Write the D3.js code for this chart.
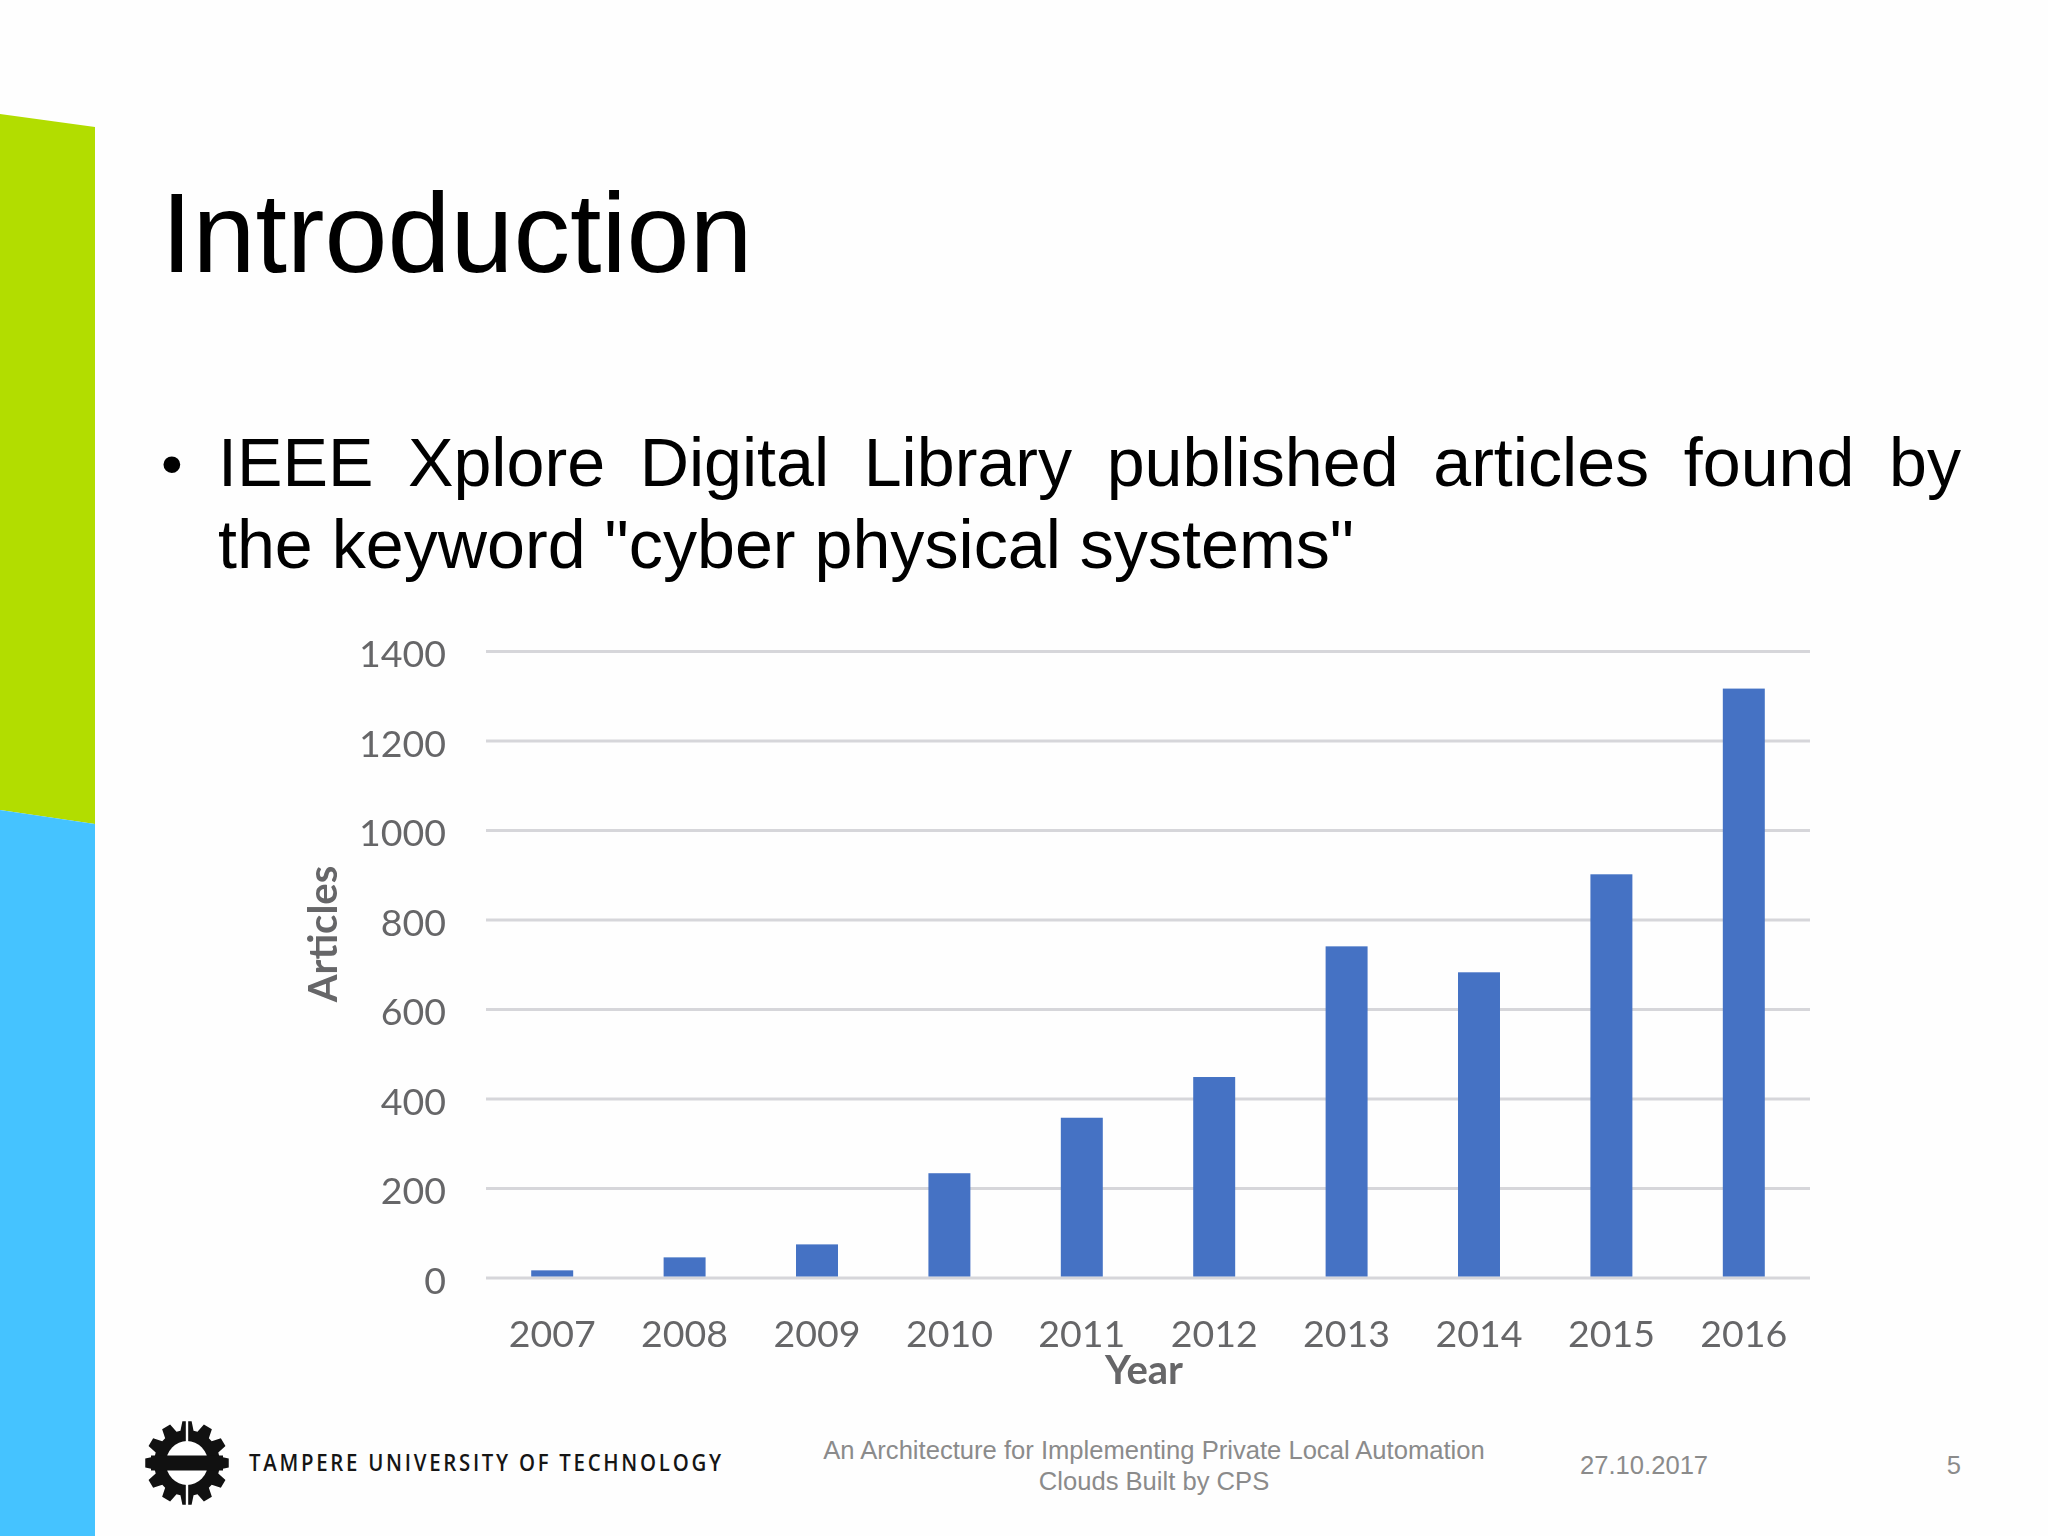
<!DOCTYPE html>
<html><head><meta charset="utf-8">
<script src="https://cdnjs.cloudflare.com/ajax/libs/d3/7.8.5/d3.min.js"></script>
<style>html,body{margin:0;padding:0;background:#fefefe}svg{display:block}</style>
</head><body><svg id="c" width="2048" height="1536"></svg>
<script>
const years = ["2007","2008","2009","2010","2011","2012","2013","2014","2015","2016"];
const articles = [16,45,74,233,357,448,740,682,901,1316];
const yTicks = [0,200,400,600,800,1000,1200,1400];
const titleText = "Introduction";
const bulletLines = ["IEEE Xplore Digital Library published articles found by","the keyword \"cyber physical systems\""];
const footerLines = ["An Architecture for Implementing Private Local Automation","Clouds Built by CPS"];
const footerDate = "27.10.2017", pageNo = "5", uniName = "TAMPERE UNIVERSITY OF TECHNOLOGY";

const svg = d3.select("#c");
const ARIAL = "'Liberation Sans',Arial,sans-serif", CAL = "Lato,'Open Sans',sans-serif";
const defs = svg.append("defs");
defs.append("filter").attr("id","soft").attr("x","-5%").attr("y","-5%").attr("width","110%").attr("height","110%")
  .append("feGaussianBlur").attr("stdDeviation",0.7);
svg.append("rect").attr("width",2048).attr("height",1536).attr("fill","#fefefe");
svg.append("polygon").attr("points","0,114 95,127 95,824 0,810").attr("fill","#b2dd00");
svg.append("polygon").attr("points","0,810 95,824 95,1536 0,1536").attr("fill","#45c3ff");

svg.append("text").text(titleText).attr("x",161).attr("y",272).attr("font-family",ARIAL).attr("font-size",113.2).attr("fill","#000");
svg.append("text").text("•").attr("x",161).attr("y",485).attr("font-family",ARIAL).attr("font-size",62).attr("fill","#000");
const l1 = svg.append("text").text(bulletLines[0]).attr("x",218).attr("y",486).attr("font-family",ARIAL).attr("font-size",68.2).attr("fill","#000");
const spaces = bulletLines[0].split(" ").length-1;
l1.attr("word-spacing",(1743-l1.node().getComputedTextLength())/spaces);
svg.append("text").text(bulletLines[1]).attr("x",218).attr("y",568).attr("font-family",ARIAL).attr("font-size",68.2).attr("fill","#000");

// chart
const L=486,R=1810,T=651,B=1277.5;
const x=d3.scaleBand().domain(years).range([L,R]).paddingInner(0.683).paddingOuter(0.3415);
const y=d3.scaleLinear().domain([0,1400]).range([B,T]);
const chart=svg.append("g").attr("filter","url(#soft)");
const ya=chart.append("g").attr("transform",`translate(${L},0)`)
  .call(d3.axisLeft(y).tickValues(yTicks).tickSize(-(R-L)).tickFormat(d3.format("d")));
ya.select(".domain").remove();
ya.selectAll("line").attr("stroke","#d6d6da").attr("stroke-width",3.2);
ya.selectAll("text").attr("x",-40).attr("dy","0.52em").attr("y",-4).attr("font-family",CAL).attr("font-size",37.5).attr("fill","#666668");
chart.selectAll("rect.bar").data(articles).join("rect").attr("class","bar")
  .attr("x",(d,i)=>x(years[i])).attr("width",x.bandwidth())
  .attr("y",d=>y(d)).attr("height",d=>y(0)-y(d)-1).attr("fill","#4472c4");
const xa=chart.append("g").attr("transform",`translate(0,${B})`).call(d3.axisBottom(x).tickSize(0));
xa.select(".domain").remove();
xa.selectAll("text").attr("y",0).attr("dy",69).attr("font-family",CAL).attr("font-size",37.5).attr("fill","#666668");
chart.append("text").text("Year").attr("x",1144).attr("y",1384).attr("text-anchor","middle").attr("font-family",CAL).attr("font-weight",700).attr("font-size",40).attr("fill","#666668");
chart.append("text").text("Articles").attr("transform","translate(337,934) rotate(-90)").attr("text-anchor","middle").attr("font-family",CAL).attr("font-weight",700).attr("font-size",40).attr("fill","#666668");

// logo
const gx=187,gy=1463,r0=33,r1=42,g=svg.append("g").attr("transform",`translate(${gx},${gy})`);
const pts=[];
d3.range(12).forEach(i=>{const a=i*Math.PI/6-Math.PI/2;
  [[-0.2,r0],[-0.11,r1],[0.11,r1],[0.2,r0]].forEach(([da,r])=>pts.push([r*Math.cos(a+da),r*Math.sin(a+da)]));});
g.append("path").attr("d",d3.line()(pts)+"Z").attr("fill","#111");
g.append("ellipse").attr("rx",21).attr("ry",22).attr("fill","#fff");
g.append("rect").attr("x",-36).attr("y",-7.5).attr("width",72).attr("height",15).attr("fill","#111");
g.append("rect").attr("x",-1.2).attr("y",-44).attr("width",2.4).attr("height",24).attr("fill","#fff");
g.append("rect").attr("x",-1.2).attr("y",20).attr("width",2.4).attr("height",24).attr("fill","#fff");
svg.append("text").text(uniName).attr("transform","translate(249,1471) scale(0.85,1)").attr("textLength",472/0.85).attr("lengthAdjust","spacing")
  .attr("font-family","'Open Sans',sans-serif").attr("font-weight",600).attr("font-size",24).attr("fill","#151515");

// footer
footerLines.forEach((t,i)=>svg.append("text").text(t).attr("x",1154).attr("y",1459+i*31).attr("text-anchor","middle").attr("font-family",ARIAL).attr("font-size",25.6).attr("fill","#8b8b8b"));
svg.append("text").text(footerDate).attr("x",1580).attr("y",1474).attr("font-family",ARIAL).attr("font-size",25.6).attr("fill","#8b8b8b");
svg.append("text").text(pageNo).attr("x",1961).attr("y",1474).attr("text-anchor","end").attr("font-family",ARIAL).attr("font-size",25.6).attr("fill","#8b8b8b");
</script></body></html>
